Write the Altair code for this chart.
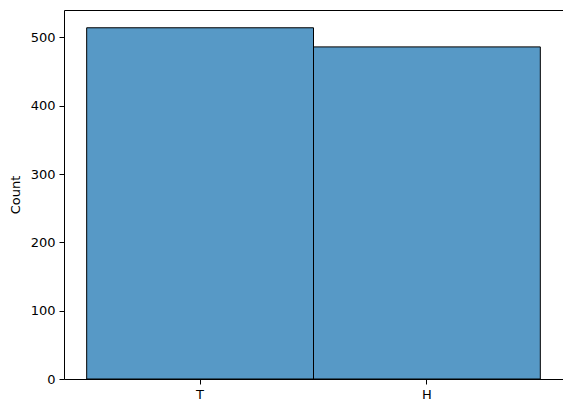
import altair as alt
import pandas as pd

# coin flip outcomes and their counts
faces = ["T", "H"]
counts = [514, 486]

data = pd.DataFrame({"face": faces, "count": counts})

bars = alt.Chart(data).mark_bar(
    color="#5799c6", stroke="black", strokeWidth=1
).encode(
    x=alt.X("face:N", sort=faces,
            scale=alt.Scale(paddingInner=0, paddingOuter=0.1),
            axis=alt.Axis(title=None, labelAngle=0, domain=False,
                          tickColor="black", tickSize=5, labelPadding=4,
                          labelColor="black", labelFontSize=13,
                          labelFont="DejaVu Sans")),
    y=alt.Y("count:Q",
            scale=alt.Scale(domain=[0, 540], nice=False),
            axis=alt.Axis(title="Count", values=[0, 100, 200, 300, 400, 500],
                          grid=False, domain=False, tickColor="black",
                          tickSize=5, labelPadding=4, labelColor="black",
                          labelFontSize=13, labelFont="DejaVu Sans",
                          titleFont="DejaVu Sans", titleFontSize=13,
                          titleFontWeight="normal", titleColor="black",
                          titlePadding=8))
)

chart = bars.properties(
    width=499, height=369,
    autosize=alt.AutoSizeParams(type="none"),
    padding={"left": 56, "top": 2, "right": 0, "bottom": 40},
).configure_view(stroke="black", strokeWidth=1)

chart.save("out.html", embed_options={"renderer": "svg", "actions": False})
